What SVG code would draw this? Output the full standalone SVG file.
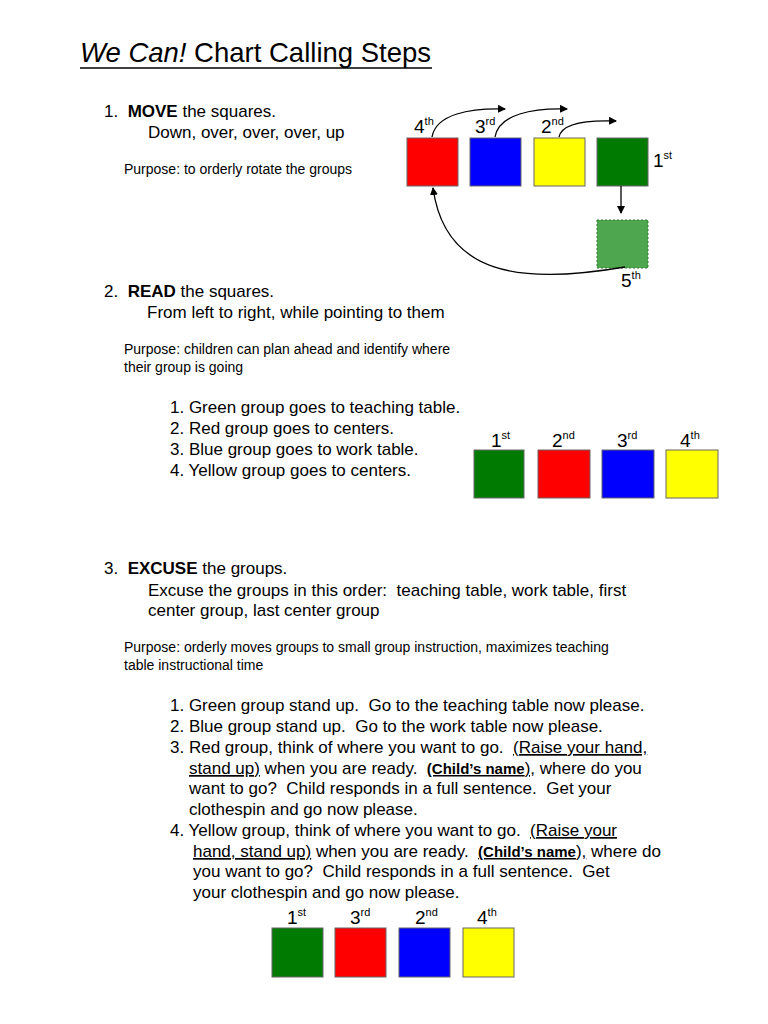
<svg xmlns="http://www.w3.org/2000/svg" width="768" height="1024" viewBox="0 0 768 1024" xml:space="preserve">
<style>
text{font-family:"Liberation Sans",Arial,sans-serif;fill:#000;white-space:pre}
.b{font-size:17px}.s{font-size:14px}.l{font-size:19px}
.sq{stroke:#666;stroke-width:1}
.c{fill:none;stroke:#000;stroke-width:1.3}
</style>
<defs><marker id="a" markerWidth="8" markerHeight="8" refX="7" refY="4" orient="auto" markerUnits="userSpaceOnUse"><path d="M0,0L8,4L0,8z" fill="#000"/></marker></defs>
<rect width="768" height="1024" fill="#fff"/>
<g id="title"><text x="80" y="62" font-size="27.5"><tspan font-style="italic">We Can!</tspan> Chart Calling Steps</text><line x1="80" y1="68" x2="432" y2="68" stroke="#000" stroke-width="1.3"/></g>
<g id="step1">
<text class="b" x="104" y="117">1.  <tspan font-weight="bold">MOVE</tspan> the squares.</text>
<text class="b" x="148" y="138">Down, over, over, over, up</text>
<text class="s" x="124" y="174">Purpose: to orderly rotate the groups</text>
</g>
<g id="sq1">
<rect class="sq" x="407" y="138" width="51" height="48" fill="#f00"/>
<rect class="sq" x="470" y="138" width="51" height="48" fill="#00f"/>
<rect class="sq" x="534" y="138" width="51" height="48" fill="#ff0"/>
<rect class="sq" x="597" y="138" width="51" height="48" fill="#007a00"/>
<rect x="597" y="220" width="51" height="48" fill="#4ea64e" stroke="#2e7a2e" stroke-dasharray="2,2"/>
<text class="l" x="414" y="133">4<tspan font-size="11" dy="-8">th</tspan></text>
<text class="l" x="475" y="133">3<tspan font-size="11" dy="-8">rd</tspan></text>
<text class="l" x="541" y="133">2<tspan font-size="11" dy="-8">nd</tspan></text>
<text class="l" x="653" y="167">1<tspan font-size="11" dy="-8">st</tspan></text>
<text class="l" x="621" y="287">5<tspan font-size="11" dy="-8">th</tspan></text>
</g>
<g id="connectors">
<path class="c" d="M432,137 C436,114 470,108 505,109" marker-end="url(#a)"/>
<path class="c" d="M495,137 C499,114 533,108 567,109" marker-end="url(#a)"/>
<path class="c" d="M559,137 C562,122 590,120 616,121" marker-end="url(#a)"/>
<path class="c" d="M621,186 L621,213" marker-end="url(#a)"/>
<path class="c" d="M625,267 C520,285 445,275 433,188" marker-end="url(#a)"/>
</g>
<g id="step2">
<text class="b" x="104" y="297">2.  <tspan font-weight="bold">READ</tspan> the squares.</text>
<text class="b" x="147" y="318">From left to right, while pointing to them</text>
<text class="s" x="124" y="354">Purpose: children can plan ahead and identify where</text>
<text class="s" x="124" y="372">their group is going</text>
<text class="b" x="170" y="413">1. Green group goes to teaching table.</text>
<text class="b" x="170" y="434">2. Red group goes to centers.</text>
<text class="b" x="170" y="455">3. Blue group goes to work table.</text>
<text class="b" x="170" y="476">4. Yellow group goes to centers.</text>
</g>
<g id="sq2">
<rect class="sq" x="474" y="450" width="50" height="48" fill="#007a00"/>
<rect class="sq" x="538" y="450" width="52" height="48" fill="#f00"/>
<rect class="sq" x="602" y="450" width="52" height="48" fill="#00f"/>
<rect class="sq" x="666" y="450" width="52" height="48" fill="#ff0"/>
<text class="l" x="491" y="447">1<tspan font-size="11" dy="-8">st</tspan></text>
<text class="l" x="552" y="447">2<tspan font-size="11" dy="-8">nd</tspan></text>
<text class="l" x="617" y="447">3<tspan font-size="11" dy="-8">rd</tspan></text>
<text class="l" x="680" y="447">4<tspan font-size="11" dy="-8">th</tspan></text>
</g>
<g id="step3">
<text class="b" x="104" y="574">3.  <tspan font-weight="bold">EXCUSE</tspan> the groups.</text>
<text class="b" x="148" y="596">Excuse the groups in this order:  teaching table, work table, first</text>
<text class="b" x="148" y="616">center group, last center group</text>
<text class="s" x="124" y="652">Purpose: orderly moves groups to small group instruction, maximizes teaching</text>
<text class="s" x="124" y="670">table instructional time</text>
<text class="b" x="170" y="711">1. Green group stand up.  Go to the teaching table now please.</text>
<text class="b" x="170" y="732">2. Blue group stand up.  Go to the work table now please.</text>
<text class="b" x="170" y="753">3. Red group, think of where you want to go.  <tspan text-decoration="underline">(Raise your hand,</tspan></text>
<text class="b" x="189" y="774"><tspan text-decoration="underline">stand up)</tspan> when you are ready.  <tspan font-weight="bold" font-size="15" text-decoration="underline">(Child’s name</tspan><tspan text-decoration="underline">),</tspan> where do you</text>
<text class="b" x="189" y="794">want to go?  Child responds in a full sentence.  Get your</text>
<text class="b" x="189" y="815">clothespin and go now please.</text>
<text class="b" x="170" y="836">4. Yellow group, think of where you want to go.  <tspan text-decoration="underline">(Raise your</tspan></text>
<text class="b" x="193" y="857"><tspan text-decoration="underline">hand, stand up)</tspan> when you are ready.  <tspan font-weight="bold" font-size="15" text-decoration="underline">(Child’s name</tspan><tspan text-decoration="underline">),</tspan> where do</text>
<text class="b" x="193" y="877">you want to go?  Child responds in a full sentence.  Get</text>
<text class="b" x="193" y="898">your clothespin and go now please.</text>
</g>
<g id="sq3">
<rect class="sq" x="272" y="928" width="51" height="49" fill="#007a00"/>
<rect class="sq" x="335" y="928" width="51" height="49" fill="#f00"/>
<rect class="sq" x="399" y="928" width="51" height="49" fill="#00f"/>
<rect class="sq" x="463" y="928" width="51" height="49" fill="#ff0"/>
<text class="l" x="287" y="924">1<tspan font-size="11" dy="-8">st</tspan></text>
<text class="l" x="350" y="924">3<tspan font-size="11" dy="-8">rd</tspan></text>
<text class="l" x="415" y="924">2<tspan font-size="11" dy="-8">nd</tspan></text>
<text class="l" x="477" y="924">4<tspan font-size="11" dy="-8">th</tspan></text>
</g>
</svg>
